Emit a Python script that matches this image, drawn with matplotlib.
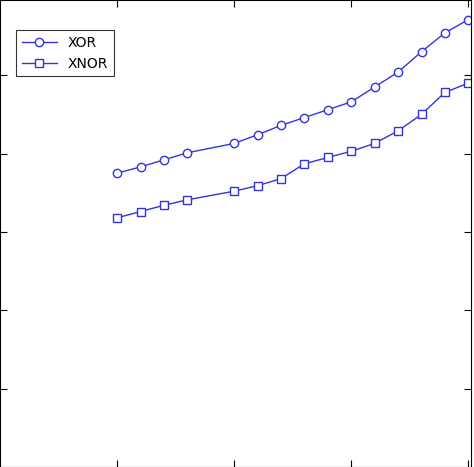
import matplotlib
matplotlib.use("Agg")
import matplotlib.pyplot as plt

x = [1.0, 1.2, 1.4, 1.6, 2.0, 2.2, 2.4, 2.6, 2.8, 3.0, 3.2, 3.4, 3.6, 3.8, 4.0]
xor = [3.75, 3.83, 3.92, 4.01, 4.13, 4.24, 4.36, 4.46, 4.56, 4.66, 4.85, 5.04, 5.30, 5.54, 5.71]
xnor = [3.18, 3.26, 3.34, 3.41, 3.52, 3.59, 3.68, 3.87, 3.95, 4.03, 4.13, 4.29, 4.50, 4.78, 4.90]

fig = plt.figure(figsize=(4.74, 4.67), dpi=100)
ax = fig.add_axes([0.0, 0.0, 0.993, 1.0])
c = "#3333dd"
ax.plot(x, xor, "-o", color=c, mfc="white", ms=6, lw=1, label="XOR")
ax.plot(x, xnor, "-s", color=c, mfc="white", ms=5.5, lw=1, label="XNOR")
ax.set_xlim(0, 4.02)
ax.set_ylim(0, 5.96)
ax.set_xticks([1, 2, 3, 4])
ax.set_yticks([1, 2, 3, 4, 5])
ax.tick_params(direction="in", top=True, right=True, labelbottom=False, labelleft=False, length=5)
leg = ax.legend(loc="upper left", bbox_to_anchor=(0.02, 0.95), frameon=True, fancybox=False,
                edgecolor="black", fontsize=10, handlelength=2.5)
leg.get_frame().set_linewidth(0.8)
fig.savefig("out.png", dpi=100)
